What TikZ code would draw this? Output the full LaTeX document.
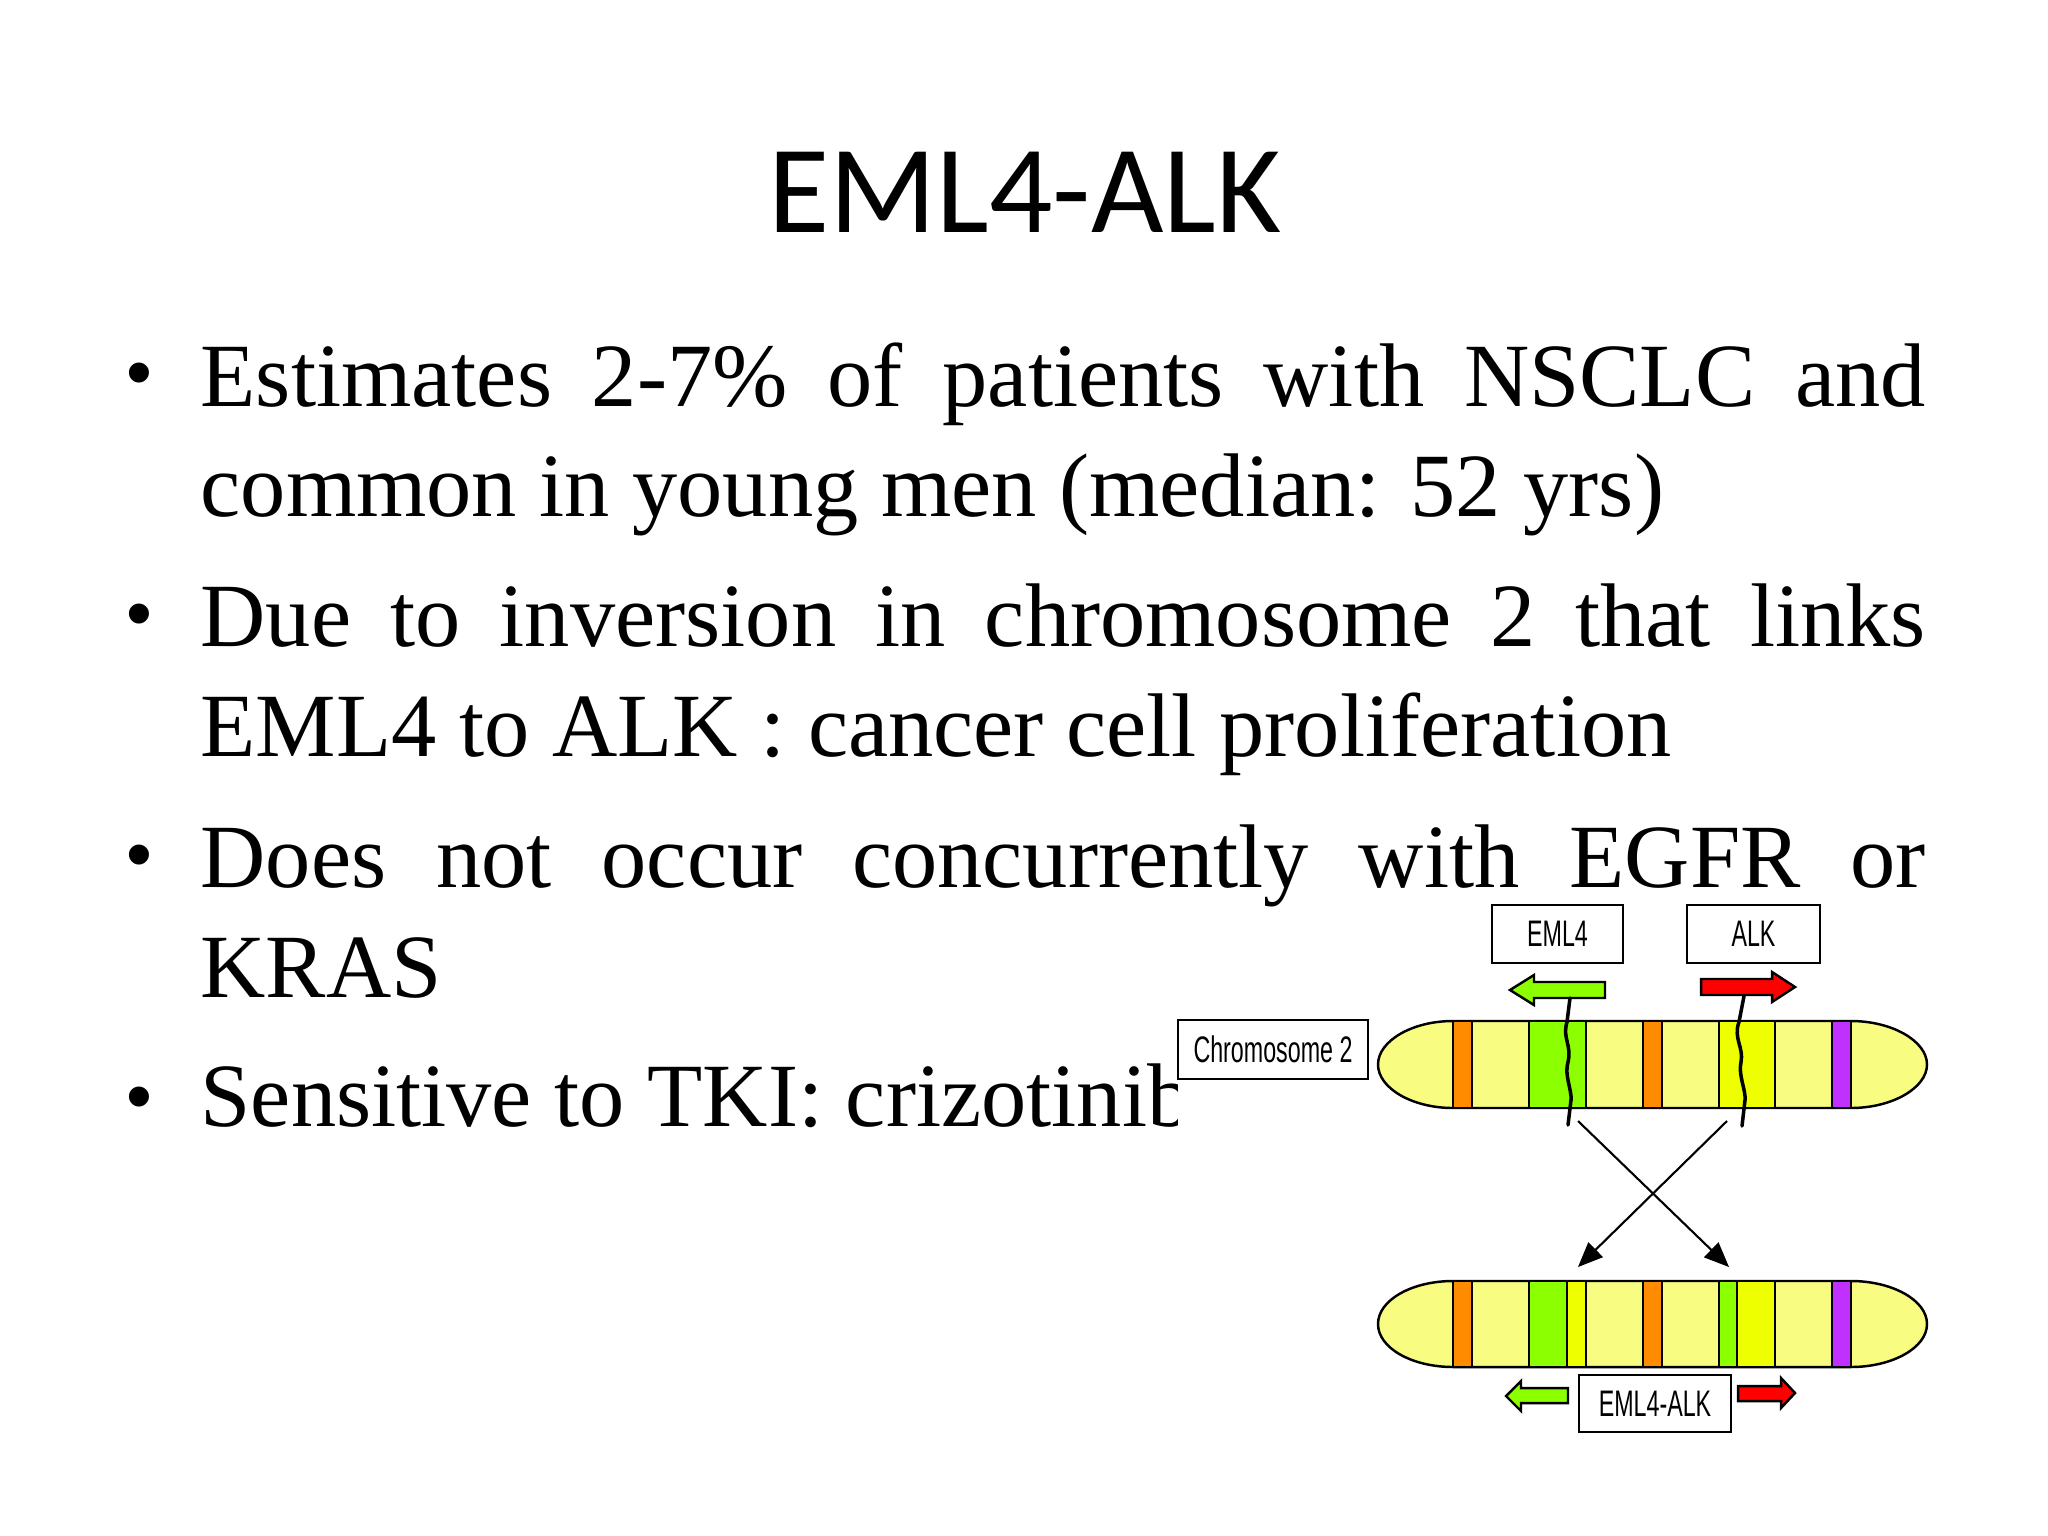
\documentclass[tikz,border=0pt]{standalone}
\usepackage{fontspec}
\setmainfont{Liberation Serif}
\newfontfamily\titlefont{Carlito}
\newfontfamily\bulletfont{Liberation Sans}
\newfontfamily\labelfont[FakeStretch=0.63]{Liberation Sans}
\usetikzlibrary{arrows}
\definecolor{chromo}{HTML}{F8FC80}
\definecolor{bandorange}{HTML}{FF8C00}
\definecolor{bandgreen}{HTML}{8CFF00}
\definecolor{bandyellow}{HTML}{EEFF00}
\definecolor{bandpurple}{HTML}{C030FF}
\newcommand{\bodysize}{\fontsize{25.7}{31.3}\selectfont}

\begin{document}
\begin{tikzpicture}[x=0.01cm,y=-0.01cm,>=triangle 45,
  title node/.style={font=\titlefont\fontsize{35.6}{40}\selectfont,anchor=base},
  bullet node/.style={font=\bulletfont\fontsize{21}{25}\selectfont,anchor=base,inner sep=0pt},
  body node/.style={font=\bodysize,anchor=north west,inner sep=0pt,text width=17.24cm,align=justify},
  label node/.style={draw,fill=white,line width=0.7pt,font=\labelfont\fontsize{10.5}{12}\selectfont,inner sep=0pt},
  band/.style={draw,line width=0.7pt},
  body/.style={draw,fill=chromo,line width=0.7pt},
  gene/.style={draw,line width=0.7pt},
  break line/.style={line width=1pt,line cap=round},
  swap line/.style={->,line width=0.6pt,shorten >=0pt}]

  \useasboundingbox (0,0) rectangle (2048,1536);

  \node[title node] (title) at (1025,232) {EML4-ALK};

  \node[bullet node] (b1) at (139,397) {•};
  \node[bullet node] (b2) at (139,638) {•};
  \node[bullet node] (b3) at (139,879) {•};
  \node[bullet node] (b4) at (139,1121) {•};

  \node[body node] (t1) at (200,342) {Estimates 2-7\% of patients with NSCLC and common in young men (median: 52 yrs)};
  \node[body node] (t2) at (200,583) {Due to inversion in chromosome 2 that links EML4 to ALK : cancer cell proliferation};
  \node[body node] (t3) at (200,824) {Does not occur concurrently with EGFR or KRAS};
  \node[body node] (t4) at (200,1063) {Sensitive to TKI: crizotinib};

  % white ground of the figure
  \fill[white] (1178,1020) rectangle (1368,1150);

  % upper chromosome
  \path[body] (1453,1021) .. controls (1412,1021) and (1378,1041) .. (1378,1064.5)
    .. controls (1378,1088) and (1412,1108) .. (1453,1108) -- (1851,1108)
    .. controls (1892,1108) and (1927,1088) .. (1927,1064.5)
    .. controls (1927,1041) and (1892,1021) .. (1851,1021) -- cycle;
  \draw[band,fill=bandorange] (1453,1021) rectangle (1472,1108);
  \draw[band] (1529,1021) -- (1529,1108);
  \draw[band,fill=bandgreen] (1529,1021) rectangle (1586,1108);
  \draw[band,fill=bandorange] (1643,1021) rectangle (1662,1108);
  \draw[band,fill=bandyellow] (1719,1021) rectangle (1775,1108);
  \draw[band,fill=bandpurple] (1832,1021) rectangle (1851,1108);

  % lower chromosome
  \path[body] (1453,1281) .. controls (1412,1281) and (1378,1300) .. (1378,1324)
    .. controls (1378,1348) and (1412,1367) .. (1453,1367) -- (1851,1367)
    .. controls (1892,1367) and (1927,1348) .. (1927,1324)
    .. controls (1927,1300) and (1892,1281) .. (1851,1281) -- cycle;
  \draw[band,fill=bandorange] (1453,1281) rectangle (1472,1367);
  \draw[band,fill=bandgreen] (1529,1281) rectangle (1567,1367);
  \draw[band,fill=bandyellow] (1567,1281) rectangle (1586,1367);
  \draw[band,fill=bandorange] (1643,1281) rectangle (1662,1367);
  \draw[band,fill=bandgreen] (1719,1281) rectangle (1737,1367);
  \draw[band,fill=bandyellow] (1737,1281) rectangle (1775,1367);
  \draw[band,fill=bandpurple] (1832,1281) rectangle (1851,1367);

  % gene arrows
  \draw[gene,fill=bandgreen] (1510,990) -- (1534,975) -- (1534,982) -- (1605,982) -- (1605,998) -- (1534,998) -- (1534,1005) -- cycle;
  \draw[gene,fill=red] (1795,987) -- (1772,972) -- (1772,979) -- (1701,979) -- (1701,995) -- (1772,995) -- (1772,1002) -- cycle;
  \draw[gene,fill=bandgreen] (1506,1396) -- (1521,1381) -- (1521,1388) -- (1568,1388) -- (1568,1403) -- (1521,1403) -- (1521,1411) -- cycle;
  \draw[gene,fill=red] (1795,1393) -- (1781,1378) -- (1781,1386) -- (1738,1386) -- (1738,1401) -- (1781,1401) -- (1781,1408) -- cycle;

  % labels
  \node[label node,minimum width=1.31cm,minimum height=0.58cm] (eml) at (1557.5,934) {EML4};
  \node[label node,minimum width=1.33cm,minimum height=0.58cm] (alk) at (1753.5,934) {ALK};
  \node[label node,minimum width=1.90cm,minimum height=0.59cm] (chr) at (1273,1049.5) {Chromosome 2};
  \node[label node,minimum width=1.52cm,minimum height=0.57cm] (fusion) at (1655,1403.5) {EML4-ALK};

  % breakpoints
  \coordinate (e1) at (1570,998);
  \coordinate (e2) at (1568,1125);
  \coordinate (a1) at (1744,996);
  \coordinate (a2) at (1742,1126);
  \draw[break line] (e1) -- (1567,1022) .. controls (1562,1038) and (1572,1045) .. (1568,1062)
    .. controls (1564,1075) and (1572,1090) .. (1571,1100) -- (e2);
  \draw[break line] (a1) -- (1739,1022) .. controls (1733,1038) and (1744,1048) .. (1741,1062)
    .. controls (1738,1075) and (1746,1090) .. (1745,1100) -- (a2);

  % crossing arrows
  \coordinate (s1) at (1578,1121);
  \coordinate (s2) at (1727,1121);
  \coordinate (d1) at (1578,1267);
  \coordinate (d2) at (1729,1267);
  \draw[swap line] (s1) -- (d2);
  \draw[swap line] (s2) -- (d1);

\end{tikzpicture}
\end{document}
